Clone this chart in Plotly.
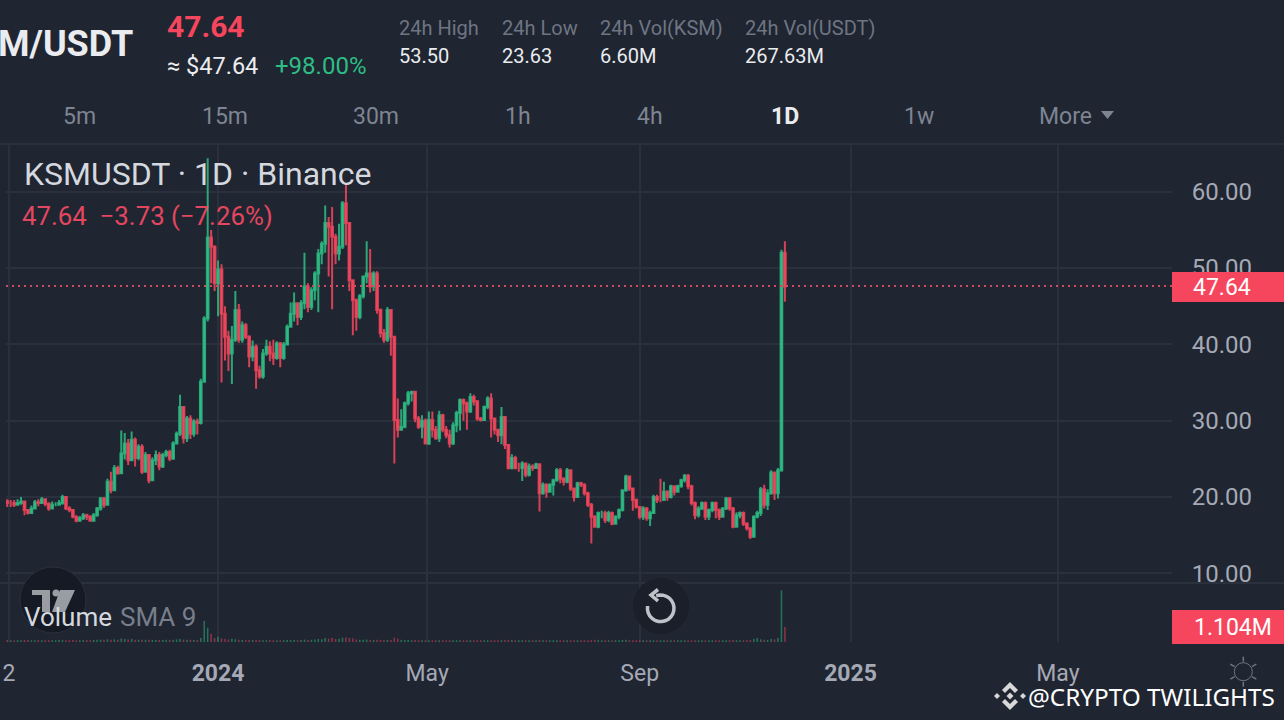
import math
import pandas as pd
import plotly.graph_objects as go

BG = "#1F2531"
GRID = "#2B313C"
GREEN = "#2EBD85"
RED = "#F6465D"
W, H = 1284, 720

dates = pd.date_range("2023-09-01", periods=226, freq="2D")

closes = [
    19.2,19.2,19.0,19.2,19.4,18.3,17.9,18.5,19.3,19.2,
    19.7,19.1,18.5,19.0,19.0,19.2,20.0,18.5,18.3,17.4,
    16.9,17.2,17.6,17.4,16.9,17.6,18.5,19.8,19.0,22.0,
    20.9,23.8,23.1,25.7,27.0,24.8,27.5,25.1,26.6,23.3,
    25.5,22.2,24.8,25.5,24.0,25.5,25.9,25.0,27.0,28.3,
    31.8,27.7,30.3,28.3,29.9,29.7,35.1,43.4,54.0,52.8,
    48.0,49.8,44.0,41.0,38.8,40.6,44.5,40.6,42.5,41.0,
    38.4,39.7,36.6,35.8,38.8,39.7,38.8,38.2,40.1,38.2,
    40.0,42.3,44.0,45.4,43.6,45.4,47.6,44.9,47.1,49.3,
    51.9,53.2,55.9,55.4,54.1,51.9,52.8,58.5,55.9,48.4,
    45.8,43.6,46.3,48.9,49.3,47.6,49.3,44.5,41.5,40.6,
    44.5,41.0,30.1,28.8,29.2,32.3,33.6,33.8,30.3,29.2,
    30.0,27.0,30.1,28.8,27.7,30.7,28.8,28.1,27.0,29.4,
    31.0,32.7,32.3,31.2,33.1,32.5,30.3,30.1,31.8,32.9,
    30.3,28.8,28.1,30.5,26.8,23.8,25.1,23.8,23.8,24.4,
    22.9,24.0,23.8,24.3,20.5,21.6,20.7,21.6,22.2,23.5,
    22.4,22.0,23.5,21.1,20.0,21.8,21.6,20.5,19.0,17.4,
    16.1,17.9,17.9,17.0,17.9,16.5,17.4,18.3,20.9,22.7,
    21.1,19.6,18.7,17.4,18.5,17.2,17.9,20.0,19.6,19.6,
    20.7,20.0,21.4,20.7,21.4,22.2,22.8,21.4,19.2,17.6,
    18.5,19.2,17.4,18.3,19.2,18.3,17.4,18.5,19.8,18.5,
    16.1,17.6,17.9,16.5,15.9,14.8,17.4,17.9,21.0,19.0,
    20.5,23.2,20.5,23.5,52.0,47.6,
]
highs = [
    19.7,19.6,19.6,19.7,20.0,19.5,18.3,18.9,19.6,19.7,
    20.0,19.8,19.3,19.4,19.3,19.6,20.3,20.0,18.8,18.4,
    17.6,17.5,17.9,17.8,17.6,17.9,18.7,20.0,20.0,22.4,
    23.3,24.2,24.1,28.7,28.4,27.6,28.6,27.8,26.9,26.9,
    25.9,25.6,25.2,26.1,25.9,25.8,26.2,26.2,27.3,28.6,
    33.4,31.9,30.6,30.7,30.2,30.3,35.5,43.7,64.4,55.0,
    53.0,51.0,50.5,45.0,41.8,42.4,47.0,45.3,43.0,42.8,
    41.2,40.5,40.0,37.2,39.4,40.6,40.4,40.6,40.4,40.3,
    40.3,42.6,45.5,46.8,45.5,45.8,52.0,48.0,47.5,49.6,
    52.5,53.5,58.2,56.7,58.0,54.5,55.8,58.8,61.1,56.0,
    48.4,46.0,46.6,49.0,53.5,52.5,49.6,49.6,44.7,42.0,
    44.9,44.6,40.7,32.9,31.5,32.5,33.9,33.9,33.9,30.6,
    30.7,30.3,31.2,31.2,29.3,31.3,30.9,29.3,28.8,29.8,
    31.3,32.9,32.9,32.5,33.6,33.4,32.7,30.5,32.0,33.2,
    33.6,30.4,28.8,31.8,28.3,26.9,25.6,25.4,24.5,24.7,
    24.4,24.4,24.3,24.5,24.3,21.9,21.8,21.8,22.4,23.8,
    23.8,22.6,23.8,23.6,21.2,22.0,22.0,21.8,20.7,19.2,
    17.6,18.1,18.2,18.2,18.2,18.1,17.6,18.5,21.0,22.9,
    22.8,21.2,19.8,18.8,18.8,18.7,18.2,20.3,20.3,22.4,
    22.0,20.9,21.6,21.5,21.6,22.4,23.0,23.0,21.6,19.4,
    18.8,19.4,19.4,18.5,19.4,19.4,18.5,18.7,20.0,20.0,
    18.7,18.0,18.1,18.1,16.7,16.0,17.6,18.2,21.3,21.6,
    21.0,23.5,23.2,23.8,52.4,53.5,
]
lows = [
    18.7,18.7,18.7,18.9,19.0,17.6,17.7,17.9,18.4,18.8,
    19.1,18.8,18.2,18.4,18.8,18.9,19.0,18.3,18.0,17.2,
    16.7,16.8,17.0,17.0,16.8,16.9,17.4,18.2,18.6,19.0,
    20.5,20.8,22.9,24.0,24.9,24.2,25.0,24.0,24.8,23.0,
    23.2,21.8,22.4,24.2,23.5,23.8,25.2,24.7,25.0,26.9,
    28.0,27.0,27.2,27.6,27.9,28.2,29.5,35.0,43.0,48.0,
    47.0,43.7,35.0,37.9,36.5,34.8,40.3,40.2,40.2,40.7,
    37.0,37.8,34.2,35.5,35.5,38.5,37.8,37.3,38.0,37.0,
    38.0,40.2,42.5,43.0,42.5,43.2,44.6,44.2,44.5,45.8,
    44.2,50.5,52.0,48.9,44.6,50.5,51.0,52.5,53.0,47.0,
    41.2,41.8,43.3,46.0,48.0,46.8,47.0,44.0,40.9,40.2,
    40.3,38.5,24.4,27.8,28.9,29.0,32.0,32.5,29.8,28.9,
    27.7,26.9,26.8,27.8,27.5,27.2,28.5,27.7,26.5,26.8,
    28.5,28.7,30.0,28.8,31.0,32.0,30.0,29.9,30.0,31.5,
    27.8,28.2,27.2,26.9,26.3,23.6,23.6,23.6,23.3,22.1,
    22.6,22.7,23.4,23.8,18.1,20.3,19.9,20.6,20.2,22.0,
    21.8,21.5,21.8,20.8,19.4,19.9,21.3,20.2,18.7,13.9,
    16.0,15.9,17.2,16.6,16.7,16.3,16.4,17.1,18.1,20.7,
    20.8,18.2,18.5,17.1,17.0,16.9,16.2,17.8,19.2,19.3,
    19.6,19.5,19.8,20.2,20.6,21.2,21.9,21.0,18.9,17.1,
    17.3,18.3,17.0,17.0,18.0,17.2,17.0,17.3,18.3,18.2,
    15.9,16.0,17.2,16.2,15.6,14.5,14.8,17.2,17.5,18.5,
    18.3,20.3,19.6,19.8,23.3,45.6,
]
# candles are continuous, each one opens on the previous close
opens = [19.4] + closes[:-1]

# volume in millions, most of it is only a pixel or two tall
volumes = [
    .14,.13,.13,.14,.13,.15,.14,.13,.13,.14,
    .13,.13,.14,.13,.13,.14,.14,.13,.13,.14,
    .13,.13,.14,.14,.13,.15,.16,.18,.16,.20,
    .17,.19,.17,.26,.22,.18,.24,.17,.17,.16,
    .16,.16,.15,.15,.16,.15,.16,.15,.17,.19,
    .22,.17,.16,.16,.15,.16,.30,1.55,1.05,.60,
    .30,.38,.26,.22,.18,.24,.20,.16,.15,.14,
    .14,.14,.15,.14,.13,.13,.14,.13,.13,.13,
    .13,.15,.14,.14,.13,.15,.18,.14,.16,.18,
    .22,.20,.30,.24,.32,.22,.24,.32,.34,.30,
    .28,.18,.16,.16,.18,.15,.14,.16,.15,.14,
    .16,.15,.32,.24,.16,.15,.14,.13,.14,.13,
    .13,.13,.13,.13,.13,.13,.13,.13,.13,.13,
    .13,.13,.13,.13,.13,.13,.13,.13,.13,.13,
    .13,.13,.13,.13,.14,.16,.14,.13,.13,.13,
    .13,.13,.13,.13,.16,.13,.13,.13,.13,.13,
    .13,.13,.13,.13,.13,.13,.13,.13,.13,.14,
    .16,.14,.13,.13,.13,.13,.13,.13,.15,.16,
    .14,.13,.13,.13,.13,.13,.13,.13,.13,.13,
    .13,.13,.13,.13,.13,.13,.13,.13,.13,.13,
    .13,.13,.13,.13,.13,.13,.13,.13,.13,.13,
    .14,.13,.13,.13,.13,.14,.22,.30,.20,.16,
    .14,.22,.20,.30,3.80,1.104,
]

price_ticks = [10, 20, 30, 40, 50, 60]
time_ticks = ["2023-09-02", "2024-01-01", "2024-05-01", "2024-09-01", "2025-01-01", "2025-05-01"]
time_labels = ["2", "<b>2024</b>", "May", "Sep", "<b>2025</b>", "May"]
last_price = 47.64
tabs = ["5m", "15m", "30m", "1h", "4h", "1D", "1w", "More"]
tab_x = [79, 225, 376, 518, 650, 785, 919, 1065]
stats = [("24h High", "53.50", 399), ("24h Low", "23.63", 502),
         ("24h Vol(KSM)", "6.60M", 600), ("24h Vol(USDT)", "267.63M", 745)]


def px(x):
    return x / W


def py(y):
    return 1 - y / H


def label(x, y, text, size, color, anchor="left", font="Roboto"):
    fig.add_annotation(x=px(x), y=py(y), xref="paper", yref="paper", text=text, showarrow=False,
                       xanchor=anchor, yanchor="middle", borderpad=0,
                       font=dict(family=font, size=size, color=color))


def box(x0, y0, x1, y1, color, kind="rect", line=None, layer="above"):
    fig.add_shape(type=kind, xref="paper", yref="paper", x0=px(x0), x1=px(x1), y0=py(y0), y1=py(y1),
                  fillcolor=color, line=dict(width=1 if line else 0, color=line or color), layer=layer)


def poly(points, color):
    d = "M " + " L ".join(f"{px(x):.5f},{py(y):.5f}" for x, y in points) + " Z"
    fig.add_shape(type="path", xref="paper", yref="paper", path=d, fillcolor=color, line=dict(width=0))


def stroke(points, color, width):
    d = "M " + " L ".join(f"{px(x):.5f},{py(y):.5f}" for x, y in points)
    fig.add_shape(type="path", xref="paper", yref="paper", path=d, line=dict(color=color, width=width))


def hline(y, x0, x1, color=GRID, width=2):
    fig.add_shape(type="line", xref="paper", yref="paper", x0=px(x0), x1=px(x1), y0=py(y), y1=py(y),
                  line=dict(color=color, width=width), layer="below")


fig = go.Figure()

fig.add_trace(go.Candlestick(
    x=dates, open=opens, high=highs, low=lows, close=closes,
    increasing=dict(line=dict(color="rgba(46,189,133,0.85)", width=2), fillcolor="rgba(46,189,133,0.85)"),
    decreasing=dict(line=dict(color="rgba(246,70,93,0.85)", width=2), fillcolor="rgba(246,70,93,0.85)"),
    whiskerwidth=0, yaxis="y", xaxis="x", showlegend=False,
))

vol_colors = ["rgba(46,189,133,0.5)" if c >= o else "rgba(246,70,93,0.5)" for o, c in zip(opens, closes)]
fig.add_trace(go.Bar(x=dates, y=volumes, marker=dict(color=vol_colors, line=dict(width=0)),
                     yaxis="y2", xaxis="x", showlegend=False))

fig.update_layout(
    width=W, height=H, margin=dict(l=0, r=0, t=0, b=0, autoexpand=False),
    paper_bgcolor=BG, plot_bgcolor=BG, bargap=0.55, showlegend=False,
    font=dict(family="Roboto"),
    xaxis=dict(domain=[px(6), px(1172)], range=["2023-08-31 07:00", "2025-07-06"], anchor="y2",
               rangeslider=dict(visible=False), tickmode="array", tickvals=time_ticks, ticktext=time_labels,
               tickangle=0, showgrid=True, gridcolor=GRID, gridwidth=2, zeroline=False, showline=False,
               ticks="outside", ticklen=10, tickcolor=BG, tickfont=dict(size=23, color="#A5A9B5")),
    yaxis=dict(domain=[py(583), py(144)], range=[8.73, 66.26], side="right", anchor="x",
               tickmode="array", tickvals=price_ticks, ticktext=[f"{v}.00" for v in price_ticks],
               showgrid=True, gridcolor=GRID, gridwidth=2, zeroline=False, showline=False,
               ticks="outside", ticklen=14, tickcolor=BG, tickfont=dict(size=24, color="#A5A9B5")),
    yaxis2=dict(domain=[py(642), py(583)], range=[0, 4.34], side="right", anchor="x",
                showticklabels=False, showgrid=False, zeroline=False, showline=False),
)

hline(144, 0, W)
hline(583, 0, W)

# last price line and tags on the scale
fig.add_shape(type="line", xref="paper", yref="y", x0=px(6), x1=px(1172), y0=last_price, y1=last_price,
              line=dict(color="#D34A5E", width=2, dash="2px,4px"))
box(1172, 272, 1284, 302, RED)
label(1222, 287, f"{last_price:.2f}", 23, "#FFFFFF", "center")
box(1172, 610, 1284, 644, RED)
label(1233, 627, "1.104M", 23, "#FFFFFF", "center")

# header
label(134, 44, "<b>M/USDT</b>", 36, "#EAECEF", "right")
label(166, 27, "<b>47.64</b>", 30, RED)
label(166, 66, "≈ $47.64", 23.5, "#EAECEF")
label(274, 66, "+98.00%", 24, GREEN)
for name, value, x in stats:
    label(x - 1, 28, name, 20, "#6E7583")
    label(x - 1, 56, value, 20, "#EAECEF")

# interval tabs
for tab, x in zip(tabs, tab_x):
    if tab == "1D":
        label(x, 117, "<b>1D</b>", 23, "#EAECEF", "center")
    else:
        label(x, 117, tab, 23, "#7E8491", "center")
poly([(1101, 111), (1114, 111), (1107.5, 119)], "#7E8491")

# chart legends
label(23, 174, "KSMUSDT · 1D · Binance", 32, "#D5D8DF")
label(21, 216, "47.64  −3.73 (−7.26%)", 25.8, "#E2475F")

# tradingview badge sits under the volume legend
box(20, 567, 86, 633, "#161A25", "circle", "#2A2F3B")
box(32, 590, 50, 595, "#9A9CA3")
box(42, 595, 50, 612, "#9A9CA3")
box(52.5, 589.5, 59.5, 596.5, "#9A9CA3", "circle")
poly([(60, 590), (75, 590), (65, 612), (52, 612)], "#9A9CA3")
label(23, 617, "Volume", 26, "#D5D8DF")
label(119, 617, "SMA 9", 26, "#787E8B")

# replay button
box(633, 578, 689, 634, "#1A1F2A", "circle")
arc = [(660.7 + 13.3 * math.cos(math.radians(a)), 608.3 + 13.3 * math.sin(math.radians(a)))
       for a in range(-110, 195, 15)]
stroke(arc, "#C0C2CA", 3.5)
stroke([(658, 589.5), (651, 595), (658, 601)], "#C0C2CA", 3.5)

# sun icon in the corner
box(1234.3, 662.7, 1252.3, 680.7, "rgba(0,0,0,0)", "circle", "#6E7583")
for a in range(-90, 270, 60):
    c, s = math.cos(math.radians(a)), math.sin(math.radians(a))
    stroke([(1243.3 + 10 * c, 671.7 + 10 * s), (1243.3 + 15 * c, 671.7 + 15 * s)], "#6E7583", 1.5)

# watermark, binance logo then the handle
lx, ly = 1010, 696
poly([(lx, ly - 14), (lx + 8, ly - 6), (lx + 5, ly - 3), (lx, ly - 8), (lx - 5, ly - 3), (lx - 8, ly - 6)], "#D8D8D8")
poly([(lx, ly + 14), (lx + 8, ly + 6), (lx + 5, ly + 3), (lx, ly + 8), (lx - 5, ly + 3), (lx - 8, ly + 6)], "#D8D8D8")
for cx, r in [(lx - 13, 3), (lx, 3.5), (lx + 13, 3)]:
    poly([(cx - r, ly), (cx, ly - r), (cx + r, ly), (cx, ly + r)], "#D8D8D8")
label(1027, 696, "@CRYPTO TWILIGHTS", 24.3, "#FFFFFF", "left", "Noto Sans")

fig.write_html("out.html", config={"displayModeBar": False},
               post_script="document.body.style.margin='0';document.body.style.overflow='hidden';")
